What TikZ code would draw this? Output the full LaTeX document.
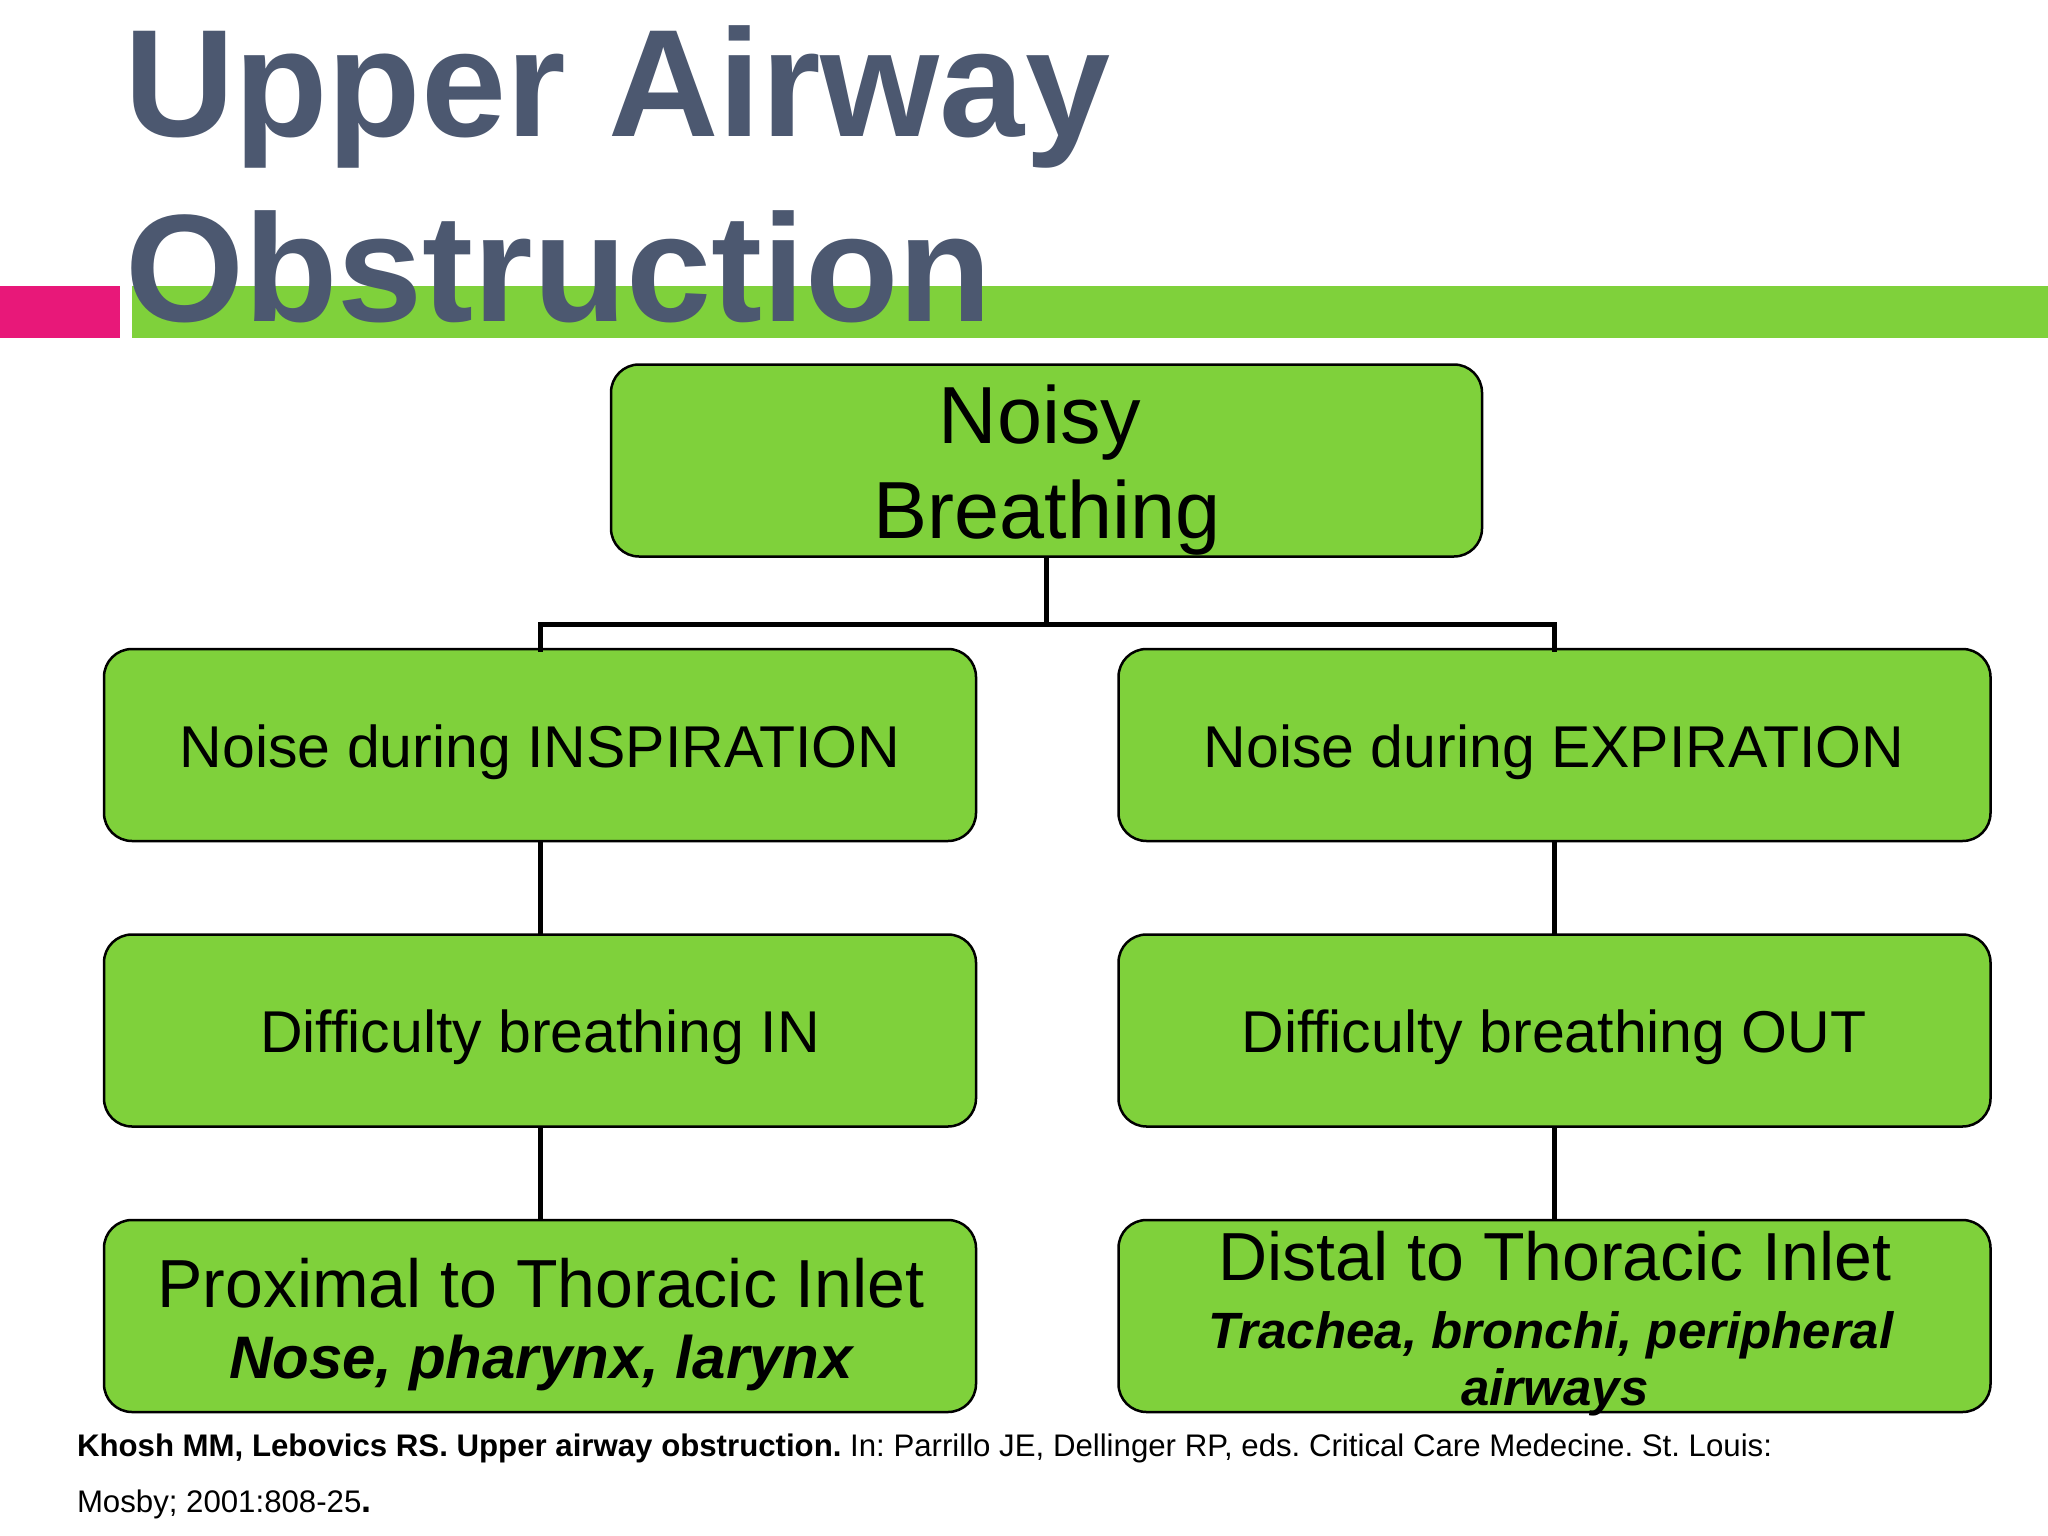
\documentclass[tikz,border=0pt]{standalone}
\usepackage{fontspec}
\setmainfont{Liberation Sans}
\definecolor{bargreen}{RGB}{127,209,59}
\definecolor{barpink}{RGB}{232,24,121}
\definecolor{titleslate}{RGB}{76,88,112}
\tikzset{
  boxnode/.style={draw=black, line width=2.5pt, fill=bargreen, rounded corners=28pt,
    minimum width=872pt, minimum height=192pt, inner sep=0pt, outer sep=0pt},
  conn/.style={draw=black, line width=5pt},
  txt/.style={inner sep=0pt, outer sep=0pt, anchor=base, text=black},
}
\frenchspacing
\begin{document}
\begin{tikzpicture}[x=1pt,y=-1pt]
\useasboundingbox (0,0) rectangle (2048,1536);
\fill[white] (0,0) rectangle (2048,1536);
% header bars
\fill[barpink] (0,286) rectangle (120,338);
\fill[bargreen] (132,286) rectangle (2048,338);
% title
\node[txt, anchor=base west, text=titleslate, font=\fontsize{153}{184}\selectfont\bfseries] (t1) at (124,137) {Upper Airway};
\node[txt, anchor=base west, text=titleslate, font=\fontsize{153}{184}\selectfont\bfseries] (t2) at (125,321) {Obstruction};
% boxes
\node[boxnode, minimum width=871pt] (top) at (1046.5,460.5) {};
\node[boxnode] (r1l) at (540,745) {};
\node[boxnode] (r1r) at (1554.5,745) {};
\node[boxnode] (r2l) at (540,1030.5) {};
\node[boxnode] (r2r) at (1554.5,1030.5) {};
\node[boxnode] (r3l) at (540,1316) {};
\node[boxnode] (r3r) at (1554.5,1316) {};
% connectors
\coordinate (j) at (1048,624);
\draw[conn] (top.south) -- (top.south |- j);
\draw[conn, line cap=rect] (r1l.north) -- (r1l.north |- j) -- (r1r.north |- j) -- (r1r.north);
\draw[conn] (r1l.south) -- (r2l.north);
\draw[conn] (r2l.south) -- (r3l.north);
\draw[conn] (r1r.south) -- (r2r.north);
\draw[conn] (r2r.south) -- (r3r.north);
% texts
\node[txt, font=\fontsize{81}{95}\selectfont] (n1) at (1040,443) {Noisy};
\node[txt, font=\fontsize{81}{95}\selectfont] (n2) at (1047,538) {Breathing};
\node[txt, font=\fontsize{59}{70}\selectfont] (a1) at (540,767) {Noise during INSPIRATION};
\node[txt, font=\fontsize{59}{70}\selectfont] (b1) at (1554,767) {Noise during EXPIRATION};
\node[txt, font=\fontsize{59}{70}\selectfont] (a2) at (540,1052) {Difficulty breathing IN};
\node[txt, font=\fontsize{59}{70}\selectfont] (b2) at (1554,1052) {Difficulty breathing OUT};
\node[txt, font=\fontsize{68}{80}\selectfont] (a3) at (541,1307) {Proximal to Thoracic Inlet};
\node[txt, font=\fontsize{60}{70}\selectfont\bfseries\itshape] (a4) at (541,1378) {Nose, pharynx, larynx};
\node[txt, font=\fontsize{68}{80}\selectfont] (b3) at (1555,1280) {Distal to Thoracic Inlet};
\node[txt, font=\fontsize{51}{55}\selectfont\bfseries\itshape] (b4) at (1551,1348) {Trachea, bronchi, peripheral};
\node[txt, font=\fontsize{51}{55}\selectfont\bfseries\itshape] (b5) at (1555,1405) {airways};
% citation
\node[txt, anchor=base west, font=\fontsize{31.2}{40}\selectfont] (c1) at (77,1456) {\textbf{Khosh MM, Lebovics RS. Upper airway obstruction.} In: Parrillo JE, Dellinger RP, eds. Critical Care Medecine. St. Louis:};
\node[txt, anchor=base west, font=\fontsize{31.2}{40}\selectfont] (c2) at (77,1512) {Mosby; 2001:808-25{\fontsize{36}{40}\selectfont\bfseries .}};
\end{tikzpicture}
\end{document}
